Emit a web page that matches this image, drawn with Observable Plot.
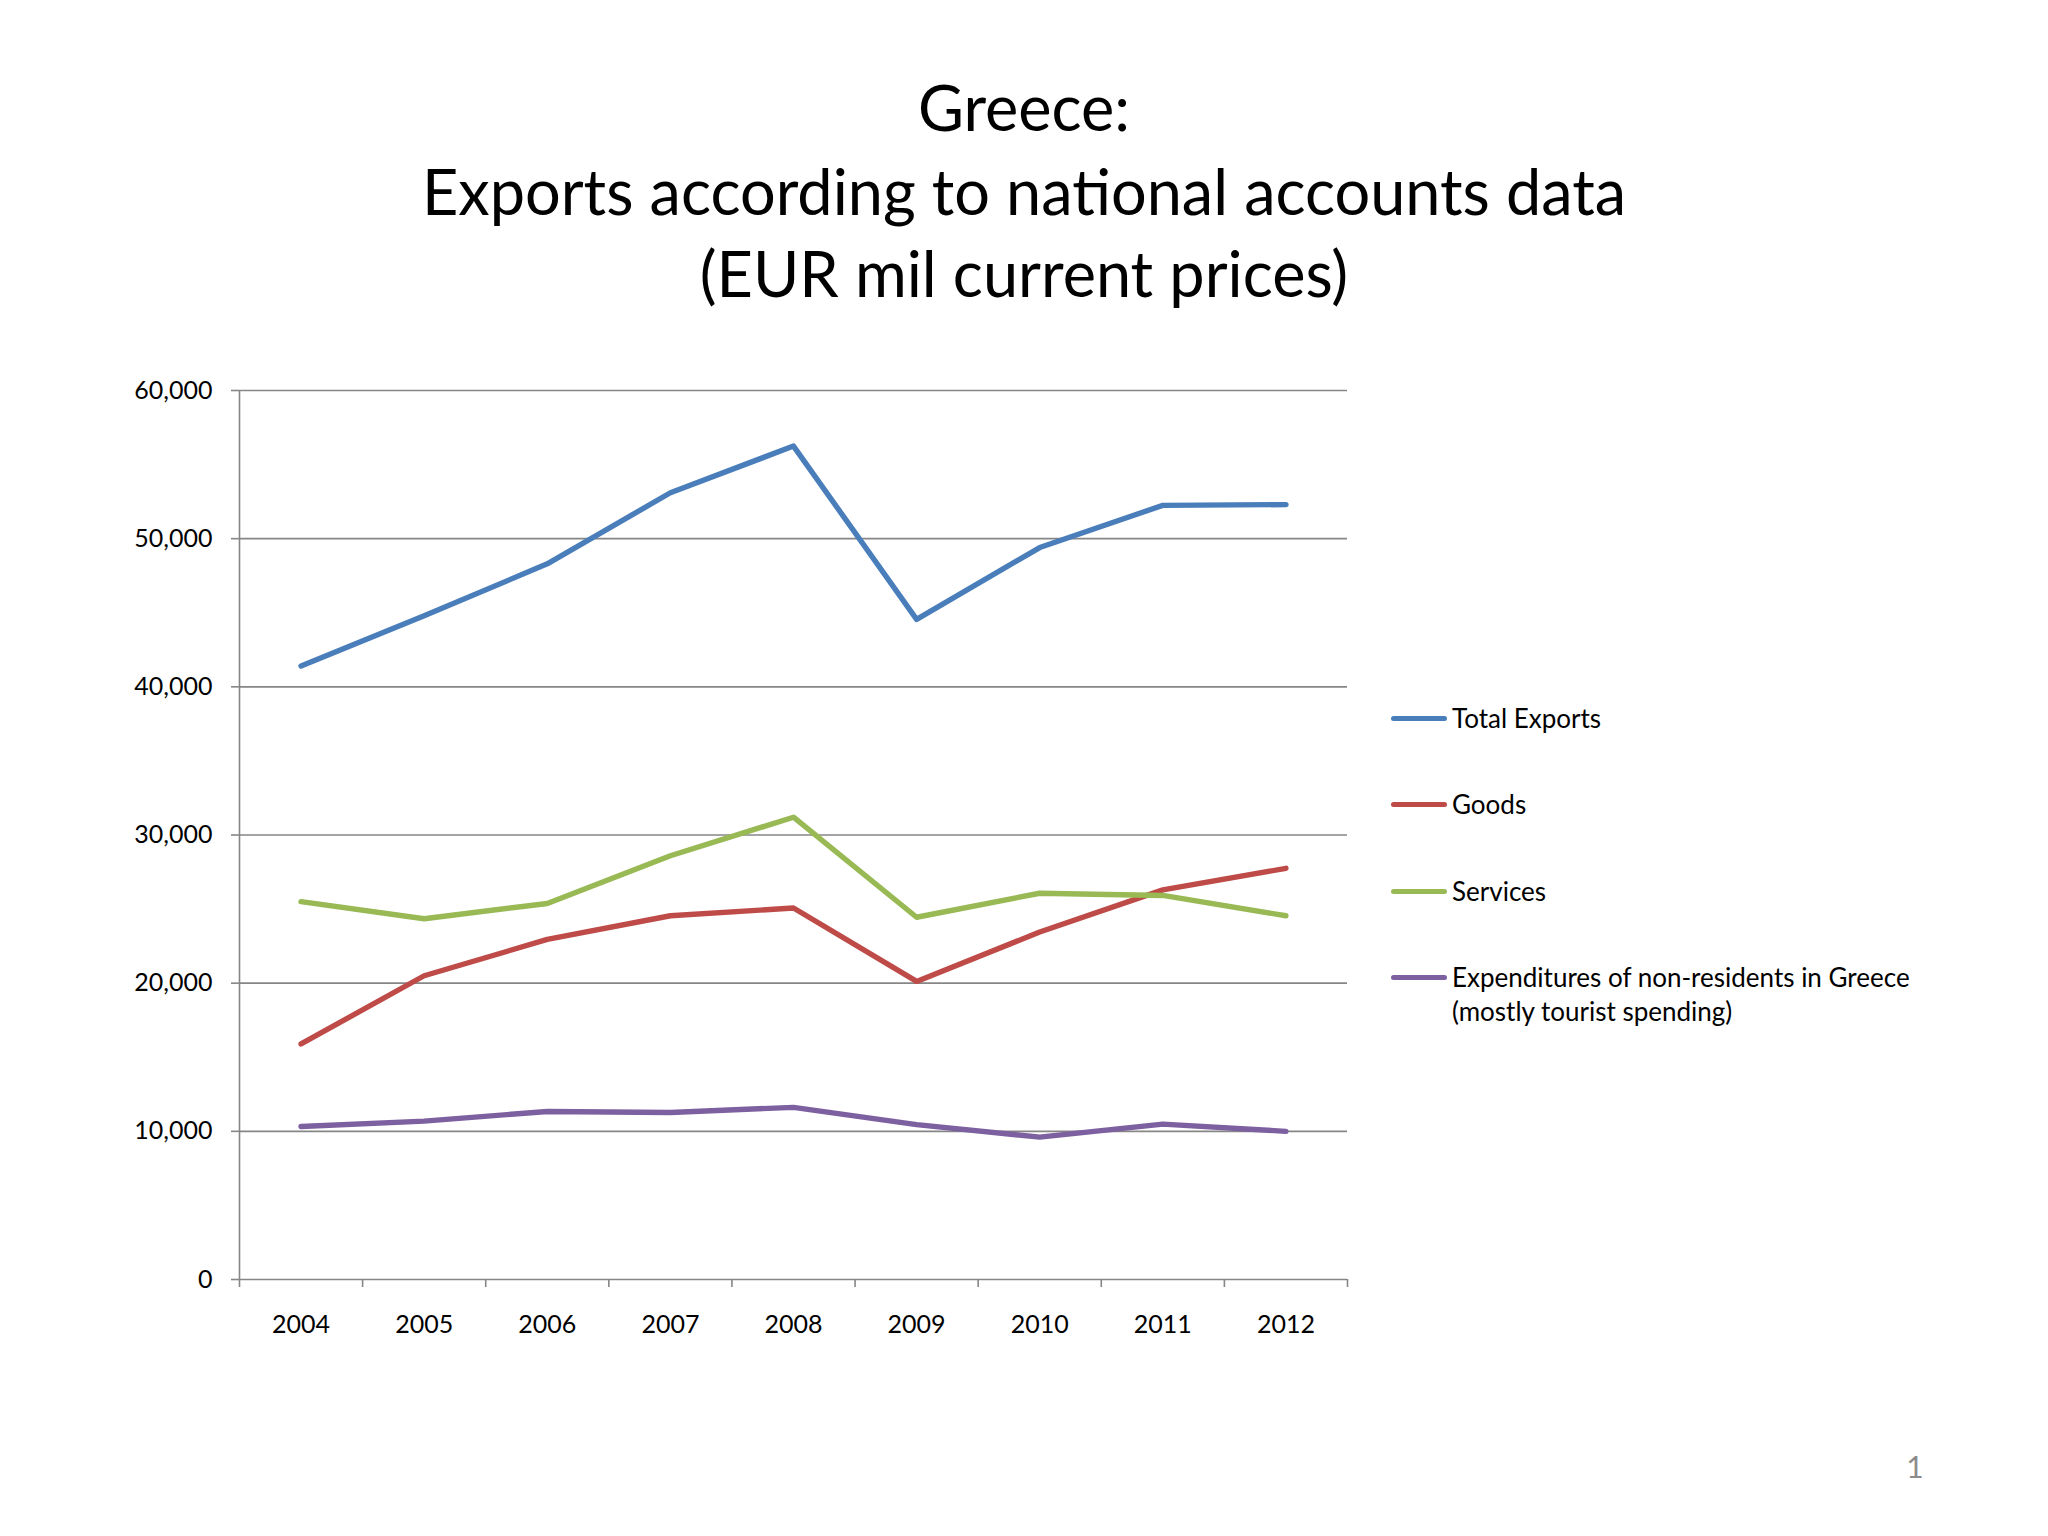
<!DOCTYPE html>
<html>
<head>
<meta charset="utf-8">
<script src="https://cdn.jsdelivr.net/npm/d3@7"></script>
<script src="https://cdn.jsdelivr.net/npm/@observablehq/plot@0.6"></script>
<style>
html, body { margin: 0; padding: 0; background: #fff; }
#page { position: relative; width: 2048px; height: 1536px; overflow: hidden; font-family: Lato, "Open Sans", sans-serif; color: #000; background: #fff; }
.tline { position: absolute; left: 0; width: 2048px; text-align: center; font-size: 63px; line-height: 84px; white-space: nowrap; }
#chart { position: absolute; left: 0; top: 340px; }
#legend { position: absolute; left: 1391px; top: 0; }
.lrow { position: absolute; left: 0; white-space: nowrap; font-size: 26px; line-height: 34px; }
.sw { position: absolute; left: 0; width: 56px; height: 5px; border-radius: 3px; }
.lt { position: absolute; left: 61px; top: 0; }
#pnum { position: absolute; left: 1900px; top: 1448px; width: 30px; text-align: center; font-size: 30px; color: #8c8c8c; }
</style>
</head>
<body>
<div id="page">
  <div id="title"></div>
  <div id="chart"></div>
  <div id="legend"></div>
  <div id="pnum">1</div>
</div>
<script>
// ---- data ----
const titleLines = ["Greece:", "Exports according to national accounts data", "(EUR mil current prices)"];
const years = [2004, 2005, 2006, 2007, 2008, 2009, 2010, 2011, 2012];
const yearLabels = ["2004", "2005", "2006", "2007", "2008", "2009", "2010", "2011", "2012"];
const seriesNames = ["Total Exports", "Goods", "Services", "Expenditures of non-residents in Greece\n(mostly tourist spending)"];
const seriesColors = ["#4a7ebb", "#be4b48", "#98b954", "#7d60a0"];
const totalExports = [41400, 44800, 48300, 53100, 56250, 44550, 49400, 52250, 52300];
const goods = [15900, 20500, 22950, 24550, 25070, 20120, 23450, 26300, 27750];
const services = [25500, 24350, 25380, 28600, 31200, 24450, 26070, 25920, 24550];
const expenditures = [10330, 10690, 11340, 11270, 11620, 10450, 9610, 10490, 10000];
const yTicks = [0, 10000, 20000, 30000, 40000, 50000, 60000];
const yTickLabels = ["0", "10,000", "20,000", "30,000", "40,000", "50,000", "60,000"];

// ---- build table ----
const seriesValues = [totalExports, goods, services, expenditures];
const rows = [];
seriesNames.forEach((name, s) => {
  years.forEach((yr, i) => rows.push({series: name, year: yr, value: seriesValues[s][i]}));
});
// category boundaries for x tick marks (between years)
const boundaries = [years[0] - 0.5, ...years.map(y => y + 0.5)];

// ---- title ----
const titleEl = document.getElementById("title");
const titleTops = [65, 149, 231];
titleLines.forEach((t, i) => {
  const d = document.createElement("div");
  d.className = "tline";
  d.style.top = titleTops[i] + "px";
  d.textContent = t;
  titleEl.appendChild(d);
});

// ---- chart ----
const axisGrey = "#868686";
const chart = Plot.plot({
  width: 2048,
  height: 1019,
  marginLeft: 239,
  marginRight: 701,
  marginTop: 50,
  marginBottom: 80,
  style: {fontFamily: "Lato, 'Open Sans', sans-serif", fontSize: "25px", color: "#000", background: "transparent", overflow: "visible"},
  x: {domain: [boundaries[0], boundaries[boundaries.length - 1]], label: null},
  y: {domain: [yTicks[0], yTicks[yTicks.length - 1]], label: null},
  color: {domain: seriesNames, range: seriesColors},
  marks: [
    Plot.gridY(yTicks.slice(1), {stroke: axisGrey, strokeOpacity: 1, strokeWidth: 1.6}),
    Plot.ruleY([yTicks[0]], {stroke: axisGrey, strokeWidth: 1.6}),
    Plot.ruleX([boundaries[0]], {stroke: axisGrey, strokeWidth: 1.6}),
    Plot.axisY(yTicks, {label: null, tickSize: 8, tickPadding: 19, stroke: axisGrey, strokeWidth: 1.6, fill: "#000", tickFormat: (d) => yTickLabels[yTicks.indexOf(d)]}),
    Plot.axisX(boundaries, {label: null, tickSize: 8, stroke: axisGrey, strokeWidth: 1.6, tickFormat: () => ""}),
    Plot.axisX(years, {label: null, tickSize: 0, tickPadding: 36, fill: "#000", tickFormat: (d) => yearLabels[years.indexOf(d)]}),
    Plot.line(rows, {x: "year", y: "value", z: "series", stroke: "series", strokeWidth: 5.4, strokeLinejoin: "round", strokeLinecap: "round"})
  ]
});
document.getElementById("chart").appendChild(chart);

// ---- legend ----
const legend = document.getElementById("legend");
const rowCenters = [718, 804, 891, 977];
seriesNames.forEach((name, i) => {
  const r = document.createElement("div");
  r.className = "lrow";
  r.style.top = (rowCenters[i] - 17) + "px";
  const sw = document.createElement("div");
  sw.className = "sw";
  sw.style.top = "15px";
  sw.style.background = seriesColors[i];
  const t = document.createElement("div");
  t.className = "lt";
  t.innerHTML = name.split("\n").map(s => s.replace(/&/g, "&amp;").replace(/</g, "&lt;")).join("<br>");
  r.appendChild(sw);
  r.appendChild(t);
  legend.appendChild(r);
});
</script>
</body>
</html>
